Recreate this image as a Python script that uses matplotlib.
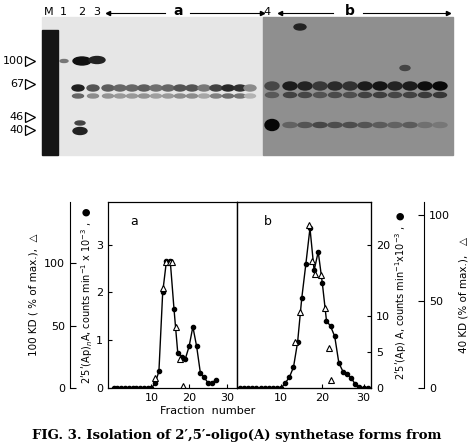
import matplotlib
matplotlib.use("Agg")
import matplotlib.pyplot as plt
from matplotlib.patches import Ellipse, Rectangle
import numpy as np

# ---- chart data ----
frac_a = list(range(0, 28))
act_a = [0]*11 + [0.10, 0.35, 2.00, 2.66, 2.66, 1.65, 0.73, 0.65, 0.61, 0.87, 1.28, 0.87, 0.31, 0.22, 0.11, 0.11, 0.16]
tri_a_x = [11, 13, 14, 15, 15.5, 16.5, 17.5, 18.5]
tri_a_y = [8, 80, 101, 101, 101, 49, 23, 2]

frac_b = list(range(0, 32))
act_b = [0]*11 + [0.7, 1.5, 2.9, 6.4, 12.5, 17.3, 22.3, 16.4, 19.0, 14.6, 9.4, 8.6, 7.2, 3.5, 2.3, 1.9, 1.4, 0.5, 0.1, 0, 0]
tri_b_x = [13.3, 14.6, 16.8, 17.5, 18.3, 19.6, 20.7, 21.5, 22.0]
tri_b_y = [26.5, 44, 94, 73, 66, 65, 46, 23, 4.4]

# ---- gel data (lane centres, band rows, intensities) ----
lanes_a = [78, 93, 108, 120, 132, 144, 156, 168, 180, 192, 204, 216, 228, 240, 250]
lanes_b = [272, 290, 305, 320, 335, 350, 365, 380, 395, 410, 425, 440]
band67_a = [0.9, 0.6, 0.55, 0.5, 0.5, 0.55, 0.45, 0.5, 0.6, 0.6, 0.4, 0.7, 0.85, 0.8, 0.3]
band67_b = [0.5, 0.8, 0.75, 0.6, 0.7, 0.65, 0.8, 0.85, 0.75, 0.8, 0.9, 0.95]
band40_b = [0.95, 0.3, 0.4, 0.5, 0.45, 0.45, 0.4, 0.35, 0.3, 0.35, 0.2, 0.15]

fig = plt.figure(figsize=(4.74, 4.42), dpi=100)
W, H = 474, 442
def ax_px(x0, y0, x1, y1, **kw):
    return fig.add_axes([x0/W, 1-y1/H, (x1-x0)/W, (y1-y0)/H], **kw)

# ---------- gel ----------
g = ax_px(0, 0, 474, 190)
g.set_xlim(0, 474); g.set_ylim(190, 0); g.axis("off")
g.add_patch(Rectangle((42, 17), 221, 138, color="#e6e6e6", zorder=0))
g.add_patch(Rectangle((263, 17), 190, 138, color="#8f8f8f", zorder=0))
g.add_patch(Rectangle((42, 30), 16, 125, color="#151515", zorder=1))
for x, v in zip(lanes_a, band67_a):
    g.add_patch(Ellipse((x, 88), 12, 6, color=str(0.75 - 0.7*v), zorder=2))
    g.add_patch(Ellipse((x, 96), 11, 4, color=str(0.85 - 0.5*v), zorder=2))
for x, v in zip(lanes_b, band67_b):
    g.add_patch(Ellipse((x, 86), 14, 8, color=str(0.55 - 0.55*v), zorder=2))
    g.add_patch(Ellipse((x, 95), 13, 5, color=str(0.5 - 0.3*v), zorder=2))
for x, v in zip(lanes_b, band40_b):
    g.add_patch(Ellipse((x, 125), 14, 5 + 6*(v > 0.9), color=str(0.55 - 0.55*v), zorder=2))
g.add_patch(Ellipse((82, 61), 18, 8, color="#111111", zorder=2))
g.add_patch(Ellipse((97, 60), 16, 7, color="#222222", zorder=2))
g.add_patch(Ellipse((64, 61), 8, 3, color="#777777", zorder=2))
g.add_patch(Ellipse((80, 131), 14, 7, color="#222222", zorder=2))
g.add_patch(Ellipse((80, 123), 10, 4, color="#444444", zorder=2))
g.add_patch(Ellipse((300, 27), 12, 6, color="#222222", zorder=2))
g.add_patch(Ellipse((405, 68), 10, 5, color="#444444", zorder=2))
for t, x in zip(["M", "1", "2", "3"], [49, 63, 82, 97]):
    g.text(x, 12, t, ha="center", va="center", fontsize=8)
g.text(267, 12, "4", ha="center", va="center", fontsize=8)
g.text(178, 11, "a", ha="center", va="center", fontsize=10, weight="bold")
g.text(350, 11, "b", ha="center", va="center", fontsize=10, weight="bold")
for (x0, x1) in [(108, 165), (190, 262), (280, 333), (363, 448)]:
    g.plot([x0, x1], [13, 13], color="k", lw=0.8)
g.plot([108], [13], marker="<", color="k", ms=3)
g.plot([262], [13], marker=">", color="k", ms=3)
g.plot([280], [13], marker="<", color="k", ms=3)
g.plot([448], [13], marker=">", color="k", ms=3)
for t, y in zip(["100", "67", "46", "40"], [61, 84, 117, 130]):
    g.text(24, y, t, ha="right", va="center", fontsize=8)
    g.plot([30], [y], marker=">", mfc="white", mec="k", ms=7, mew=0.9)

# ---------- chart ----------
fs = 8
axa = ax_px(108, 202, 237, 388)
axb = ax_px(237, 202, 371, 388)
for ax in (axa, axb):
    ax.tick_params(direction="in", labelsize=fs, length=3)
axa.plot(frac_a, act_a, "-o", color="k", ms=3, lw=1)
axa.set_xlim(-1.5, 32.7); axa.set_ylim(0, 3.89)
axa.set_xticks([10, 20, 30]); axa.set_yticks([0, 1, 2, 3])
axa.set_ylabel("2\u02b95\u02b9(Ap)$_n$A, counts min$^{-1}$ x 10$^{-3}$ ,  \u25cf", fontsize=7, labelpad=1)
axa.text(0.17, 0.93, "a", transform=axa.transAxes, fontsize=9, va="top")
ta = axa.twinx()
ta.set_ylim(0, 149); ta.set_yticks([])
ta.plot(tri_a_x, tri_a_y, "^", mfc="white", mec="k", ms=5, mew=0.8)

axb.plot(frac_b, act_b, "-o", color="k", ms=3, lw=1)
axb.set_xlim(-0.7, 31.8); axb.set_ylim(0, 25.95)
axb.set_xticks([10, 20, 30]); axb.set_yticks([])
axb.text(0.2, 0.93, "b", transform=axb.transAxes, fontsize=9, va="top")
tb = axb.twinx()
tb.set_ylim(0, 25.95); tb.set_yticks([0, 5, 10, 20])
tb.tick_params(direction="in", labelsize=fs, length=3)
tb.set_ylabel("2\u02b95\u02b9(Ap) A, counts min$^{-1}$x10$^{-3}$ ,  \u25cf", fontsize=7, labelpad=2)
tb2 = axb.twinx()
tb2.set_ylim(0, 107.3); tb2.set_yticks([])
tb2.plot(tri_b_x, tri_b_y, "^", mfc="white", mec="k", ms=5, mew=0.8)
fig.text(208/W, 1-414/H, "Fraction  number", fontsize=8, ha="center")

# far-left axis (100 KD)
axl = ax_px(70, 202, 71, 388)
axl.set_ylim(0, 149); axl.set_xticks([])
for s in ["top", "right", "bottom"]:
    axl.spines[s].set_visible(False)
axl.set_yticks([0, 50, 100]); axl.tick_params(labelsize=fs, length=4, direction="in")
axl.set_ylabel("100 KD ( % of max.),  \u25b3", fontsize=7.5)

# far-right axis (40 KD)
axr = ax_px(423, 202, 424, 388)
axr.set_ylim(0, 107.3); axr.set_xticks([])
for s in ["top", "left", "bottom"]:
    axr.spines[s].set_visible(False)
axr.yaxis.tick_right(); axr.yaxis.set_label_position("right")
axr.set_yticks([0, 50, 100]); axr.tick_params(labelsize=fs, length=4, direction="in")
axr.set_ylabel("40 KD (% of max.),   \u25b3", fontsize=7.5, labelpad=6)

fig.text(237/W, 1-439/H, "FIG. 3. Isolation of 2\u2032,5\u2032-oligo(A) synthetase forms from",
         fontsize=9.5, ha="center", family="DejaVu Serif", weight="bold")

fig.savefig("out.png", dpi=100)
